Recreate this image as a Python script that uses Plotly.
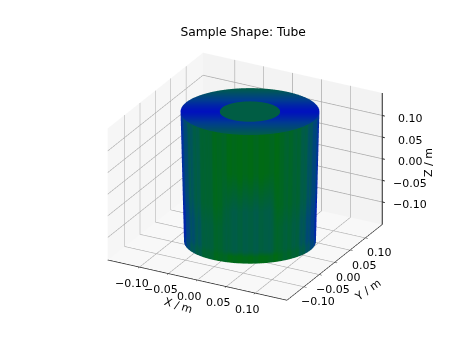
import numpy as np
import plotly.graph_objects as go

TITLE = "Sample Shape: Tube"
OUTER_RADIUS = 0.106
INNER_RADIUS = 0.046
HALF_HEIGHT = 0.15
AXIS_LIMIT = 0.155
Z_LIMIT = 0.152
DEPTH_SQUASH = 0.8
CENTER_SHIFT = 0.0076
WALL_TAPER = 0.05
TICK_VALUES = [-0.10, -0.05, 0.00, 0.05, 0.10]
TICK_LABELS = ["\u22120.10", "\u22120.05", "0.00", "0.05", "0.10"]
AZIMUTH_DEG = -62
ELEVATION_DEG = 25
EYE_DISTANCE = 2.4
BOX_SCALE = 1.15
# faint facet-to-facet brightness changes along the wall
FACET_SHADES = [0.00, -0.05, 0.03, -0.02, 0.05, -0.04, 0.02, -0.06, 0.04, 0.00, -0.03, 0.05]
BLUE_GREEN = [[0.0, "#0000d0"], [0.35, "#003c90"], [0.65, "#005a50"], [1.0, "#006a14"]]
FONT = "DejaVu Sans"
TICK_SIZE = 11

az = np.radians(AZIMUTH_DEG)
el = np.radians(ELEVATION_DEG)
view_xy = np.array([np.cos(az), np.sin(az)])
side_xy = np.array([-view_xy[1], view_xy[0]])

theta = np.linspace(0, 2 * np.pi, 241)
heights = np.linspace(-HALF_HEIGHT, HALF_HEIGHT, 61)
radii = np.linspace(INNER_RADIUS, OUTER_RADIUS, 30)


def ring(radius, angles):
    """Circle points, flattened along the viewing direction and centred on the tube axis."""
    across = radius * (np.cos(angles) * side_xy[0] + np.sin(angles) * side_xy[1]) + CENTER_SHIFT
    along = radius * (np.cos(angles) * view_xy[0] + np.sin(angles) * view_xy[1]) * DEPTH_SQUASH
    return across * side_xy[0] + along * view_xy[0], across * side_xy[1] + along * view_xy[1]


def flat_surface(x, y, z, shade):
    return go.Surface(
        x=x, y=y, z=z, surfacecolor=shade, colorscale=BLUE_GREEN, cmin=0, cmax=1,
        showscale=False, hoverinfo="skip",
        lighting=dict(ambient=1, diffuse=0, specular=0, roughness=1, fresnel=0),
    )


fig = go.Figure()

# outer wall, coloured by how squarely each facet faces the viewer
t, z = np.meshgrid(theta, heights)
narrowing = 1 - WALL_TAPER * (HALF_HEIGHT - z) / (2 * HALF_HEIGHT)
x, y = ring(OUTER_RADIUS * narrowing, t)
facing = np.abs(np.cos(t) * view_xy[0] + np.sin(t) * view_xy[1])
across = (np.cos(t) * side_xy[0] + np.sin(t) * side_xy[1]) * OUTER_RADIUS
facets = np.array(FACET_SHADES)[(np.arange(theta.size) // 3) % len(FACET_SHADES)]
shade = facing ** 0.7 + facets[None, :]
# the bore shows through the lower part of the wall as a teal band
band = np.clip((INNER_RADIUS - np.abs(across)) / 0.016, 0, 1)
rise = np.clip((0.06 - z) / 0.09, 0, 1) * np.clip((z + 0.135) / 0.012, 0, 1)
shade = shade * (1 - 0.27 * band * rise)
# darker green flanks on the lower half of the wall
flank = np.clip((-0.02 - z) / 0.05, 0, 1) * np.clip((z + 0.135) / 0.012, 0, 1)
shade = shade - 0.08 * flank * (1 - band)
fig.add_trace(flat_surface(x, y, z, np.clip(shade, 0, 1)))

# annular top face
r, t2 = np.meshgrid(radii, theta)
x_top, y_top = ring(r, t2)
along = r * (np.cos(t2) * view_xy[0] + np.sin(t2) * view_xy[1]) / OUTER_RADIUS
fig.add_trace(flat_surface(x_top, y_top, np.full_like(r, HALF_HEIGHT), np.clip(0.1 + np.abs(along) ** 1.2 * 0.6, 0, 1)))

# bore wall seen through the hole
x_in, y_in = ring(INNER_RADIUS, t)
fig.add_trace(flat_surface(x_in, y_in, z, np.full_like(z, 0.72)))

# bottom face closes the bore
x_bot, y_bot = ring(r * (1 - WALL_TAPER), t2)
fig.add_trace(flat_surface(x_bot, y_bot, np.full_like(r, -HALF_HEIGHT), np.full_like(r, 0.72)))

# z axis on the right-hand vertical edge of the box
fig.add_trace(go.Scatter3d(
    x=[AXIS_LIMIT, AXIS_LIMIT], y=[AXIS_LIMIT, AXIS_LIMIT], z=[-Z_LIMIT, Z_LIMIT],
    mode="lines", line=dict(color="#222222", width=2), hoverinfo="skip",
))


def tick_label(px, py, pz, label, dx, dy):
    return dict(
        x=px, y=py, z=pz, text=label, showarrow=False, xshift=dx, yshift=dy,
        font=dict(family=FONT, size=TICK_SIZE, color="black"),
    )


scene_annotations = []
for value, label in zip(TICK_VALUES, TICK_LABELS):
    scene_annotations.append(tick_label(value, -AXIS_LIMIT, -Z_LIMIT, label, -8, -16))
    scene_annotations.append(tick_label(AXIS_LIMIT, value, -Z_LIMIT, label, 14, -15))
    scene_annotations.append(tick_label(AXIS_LIMIT, AXIS_LIMIT, value, label, 28, -3))
    scene_annotations.append(dict(
        x=AXIS_LIMIT, y=AXIS_LIMIT, z=value, text=" ", showarrow=True, arrowhead=0,
        arrowwidth=1, arrowcolor="#222222", ax=4, ay=1, standoff=0,
        font=dict(size=1),
    ))


def axis(pane, limit, native_ticks=True):
    return dict(
        title=dict(text=""),
        range=[-limit, limit], autorange=False,
        tickmode="array", tickvals=TICK_VALUES, ticktext=[""] * len(TICK_VALUES),
        showbackground=True, backgroundcolor=pane,
        showgrid=True, gridcolor="#aaaaaa", gridwidth=1.5,
        showline=native_ticks, linecolor="#222222", linewidth=1.5,
        ticks="outside" if native_ticks else "", ticklen=3, tickcolor="#222222",
        zeroline=False, showspikes=False,
    )


def axis_title(text, px, py, angle):
    return dict(
        text=text, x=px / 474, y=1 - py / 355, xref="paper", yref="paper", showarrow=False,
        xanchor="center", yanchor="middle",
        textangle=angle, font=dict(family=FONT, size=TICK_SIZE, color="black"),
    )


fig.update_layout(
    width=474, height=355, paper_bgcolor="white", showlegend=False,
    margin=dict(l=0, r=0, t=0, b=0),
    title=dict(text=TITLE, x=0.513, xanchor="center", y=0.911, yanchor="middle",
               font=dict(family=FONT, size=12.3, color="black")),
    annotations=[
        axis_title("X / m", 178, 305, 18),
        axis_title("Y / m", 367, 290, -35),
        axis_title("Z / m", 428, 163, -90),
    ],
    scene=dict(
        domain=dict(x=[0.034, 1.0], y=[0.006, 1]),
        xaxis=axis("#f6f6f6", AXIS_LIMIT),
        yaxis=axis("#f3f3f3", AXIS_LIMIT),
        zaxis=axis("#f8f8f8", Z_LIMIT, native_ticks=False),
        aspectmode="manual",
        aspectratio=dict(x=BOX_SCALE, y=BOX_SCALE, z=0.715 * BOX_SCALE),
        annotations=scene_annotations,
        camera=dict(
            eye=dict(
                x=EYE_DISTANCE * np.cos(az) * np.cos(el),
                y=EYE_DISTANCE * np.sin(az) * np.cos(el),
                z=EYE_DISTANCE * np.sin(el),
            ),
            center=dict(x=0, y=0, z=0), up=dict(x=0, y=0, z=1),
            projection=dict(type="orthographic"),
        ),
    ),
)
fig.write_html("out.html")
